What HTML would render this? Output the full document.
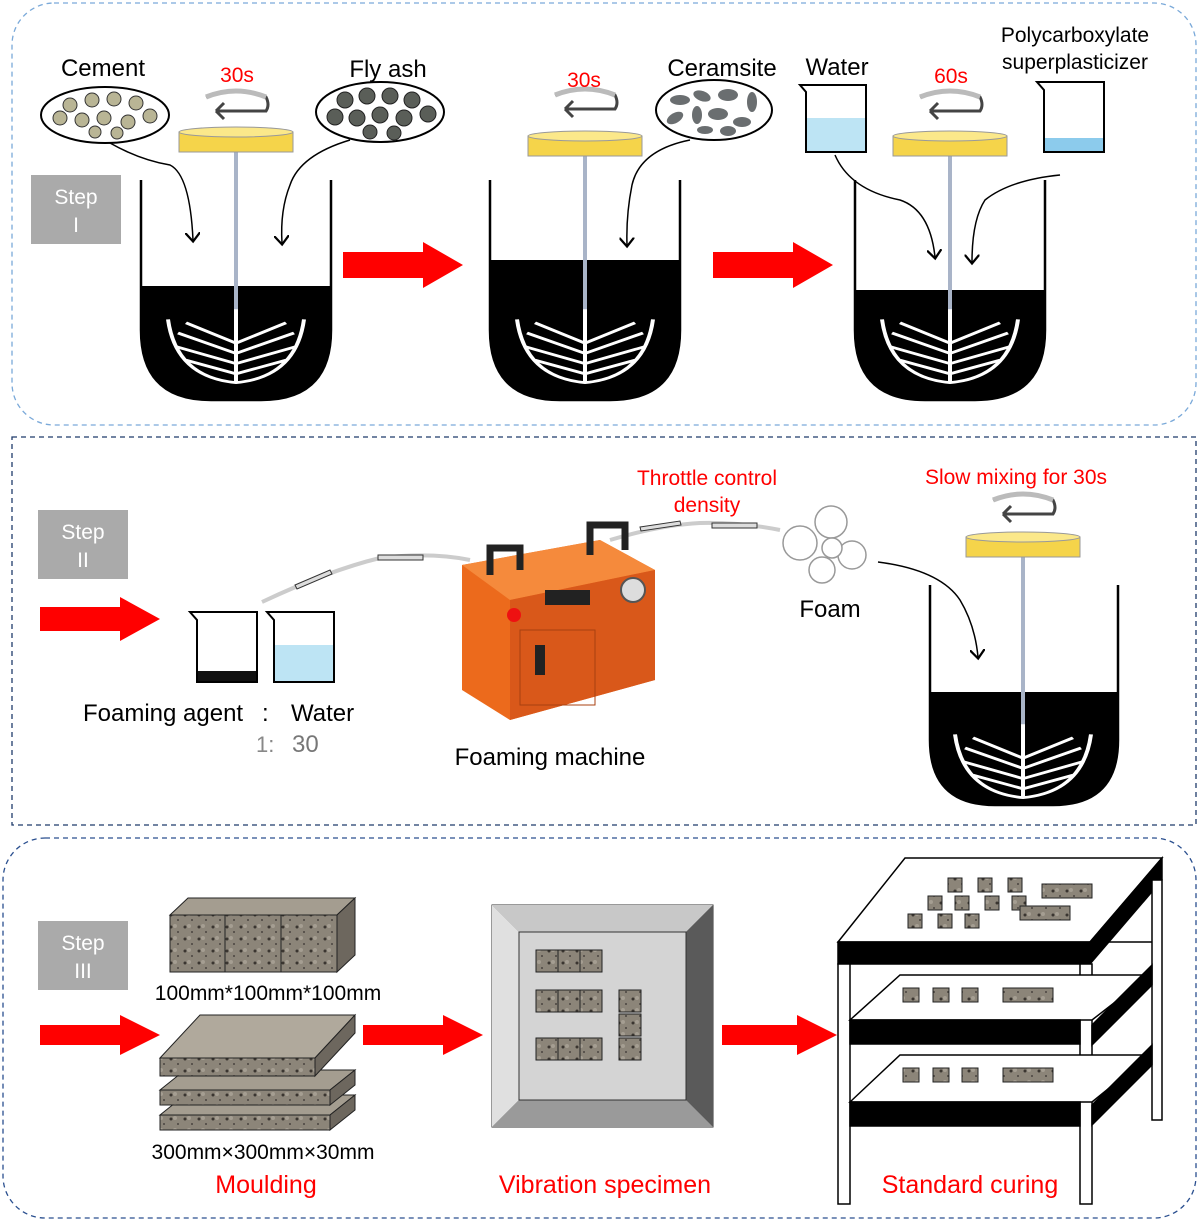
<!DOCTYPE html>
<html><head><meta charset="utf-8"><style>
html,body{margin:0;padding:0;background:#fff}
svg{display:block}
text{font-family:"Liberation Sans",sans-serif}
</style></head><body>
<svg width="1200" height="1221" viewBox="0 0 1200 1221" xmlns="http://www.w3.org/2000/svg">
<defs>
<g id="rot"><path d="M-30,-8 Q0,-20 30,-8 Q34,0 30,6 L-20,6 M-20,6 l8,-8 M-20,6 l8,8" fill="none" stroke="#444" stroke-width="3"/><path d="M-30,-8 Q0,-20 30,-8" fill="none" stroke="#bbb" stroke-width="5"/></g>
<g id="paddle0" stroke="#fff" stroke-width="4" fill="none">
<path d="M-68,-45 Q-60,40 0,48 Q60,40 68,-45"/>
<path d="M0,-60 L0,48 M0,-10 L-50,-40 M0,5 L-58,-25 M0,20 L-60,-5 M0,35 L-50,15 M0,-10 L50,-40 M0,5 L58,-25 M0,20 L60,-5 M0,35 L50,15"/>
</g>
<g id="paddle"><use href="#paddle0" transform="translate(0,15) scale(1,0.68)"/></g>
<g id="lid"><rect x="-57" y="-10" width="114" height="20" fill="#f5d44a" stroke="#999"/><ellipse cx="0" cy="-10" rx="57" ry="5" fill="#fbe88a" stroke="#999"/></g>
<marker id="ah" markerWidth="10" markerHeight="10" refX="5" refY="5" orient="auto"><path d="M0,0 L6,5 L0,10" fill="none" stroke="#000" stroke-width="1.5"/></marker>
<pattern id="tex" width="14" height="12" patternUnits="userSpaceOnUse"><rect width="14" height="12" fill="#8c8579"/><circle cx="3" cy="3" r="1.5" fill="#3a3530"/><circle cx="10" cy="8" r="1" fill="#4a4540"/><circle cx="7" cy="2" r="2" fill="#a59e92"/></pattern>
</defs>

<rect x="12" y="3" width="1184" height="422" rx="42" fill="none" stroke="#7aa9d9" stroke-width="1.3" stroke-dasharray="5,4"/>
<rect x="12" y="437" width="1184" height="388" fill="none" stroke="#1f3b6b" stroke-width="1.3" stroke-dasharray="5,4"/>
<rect x="3" y="838" width="1193" height="380" rx="42" fill="none" stroke="#2a4f8f" stroke-width="1.3" stroke-dasharray="5,4"/>

<rect x="31" y="175" width="90" height="69" fill="#aaa"/><text x="76" y="204" font-size="21" fill="#fff" text-anchor="middle">Step</text><text x="76" y="232" font-size="21" fill="#fff" text-anchor="middle" font-family="Liberation Serif">I</text>
<rect x="38" y="510" width="90" height="69" fill="#aaa"/><text x="83" y="539" font-size="21" fill="#fff" text-anchor="middle">Step</text><text x="83" y="567" font-size="21" fill="#fff" text-anchor="middle" font-family="Liberation Serif">II</text>
<rect x="38" y="921" width="90" height="69" fill="#aaa"/><text x="83" y="950" font-size="21" fill="#fff" text-anchor="middle">Step</text><text x="83" y="978" font-size="21" fill="#fff" text-anchor="middle" font-family="Liberation Serif">III</text>

<g fill="#f00">
<path d="M343,252 h80 v-10 l40,23 l-40,23 v-10 h-80z"/>
<path d="M713,252 h80 v-10 l40,23 l-40,23 v-10 h-80z"/>
<path d="M40,607 h80 v-10 l40,22 l-40,22 v-10 h-80z"/>
<path d="M40,1025 h80 v-10 l40,20 l-40,20 v-10 h-80z"/>
<path d="M363,1025 h80 v-10 l40,20 l-40,20 v-10 h-80z"/>
<path d="M722,1025 h75 v-10 l40,20 l-40,20 v-10 h-75z"/>
</g>

<g>
<path d="M141,180 V330 Q141,400 211,400 H261 Q331,400 331,330 V180" fill="none" stroke="#000" stroke-width="2.5"/>
<path d="M141,286 H331 V330 Q331,400 261,400 H211 Q141,400 141,330Z" fill="#000"/>
<line x1="236" y1="150" x2="236" y2="330" stroke="#a9b4c8" stroke-width="4"/>
<use href="#paddle" x="236" y="335"/><use href="#lid" x="236" y="142"/><use href="#rot" x="236" y="105"/>
</g>
<g>
<path d="M490,180 V330 Q490,400 560,400 H610 Q680,400 680,330 V180" fill="none" stroke="#000" stroke-width="2.5"/>
<path d="M490,260 H680 V330 Q680,400 610,400 H560 Q490,400 490,330Z" fill="#000"/>
<line x1="585" y1="155" x2="585" y2="330" stroke="#a9b4c8" stroke-width="4"/>
<use href="#paddle" x="585" y="335"/><use href="#lid" x="585" y="146"/><use href="#rot" x="585" y="103"/>
</g>
<g>
<path d="M855,180 V330 Q855,400 925,400 H975 Q1045,400 1045,330 V180" fill="none" stroke="#000" stroke-width="2.5"/>
<path d="M855,290 H1045 V330 Q1045,400 975,400 H925 Q855,400 855,330Z" fill="#000"/>
<line x1="950" y1="155" x2="950" y2="330" stroke="#a9b4c8" stroke-width="4"/>
<use href="#paddle" x="950" y="335"/><use href="#lid" x="950" y="146"/><use href="#rot" x="950" y="105"/>
</g>
<g>
<path d="M930,585 V740 Q930,805 995,805 H1053 Q1118,805 1118,740 V585" fill="none" stroke="#000" stroke-width="2.5"/>
<path d="M930,692 H1118 V740 Q1118,805 1053,805 H995 Q930,805 930,740Z" fill="#000"/>
<line x1="1023" y1="555" x2="1023" y2="745" stroke="#a9b4c8" stroke-width="4"/>
<use href="#paddle" x="1023" y="750"/><use href="#lid" x="1023" y="547"/><use href="#rot" x="1023" y="508"/>
</g>

<ellipse cx="105" cy="115" rx="64" ry="28" fill="#fff" stroke="#000" stroke-width="2"/>
<g fill="#b9b595" stroke="#333"><circle cx="70" cy="105" r="7"/><circle cx="92" cy="100" r="7"/><circle cx="114" cy="99" r="7"/><circle cx="136" cy="103" r="7"/><circle cx="60" cy="118" r="7"/><circle cx="82" cy="120" r="7"/><circle cx="104" cy="118" r="7"/><circle cx="128" cy="122" r="7"/><circle cx="150" cy="116" r="7"/><circle cx="95" cy="132" r="6"/><circle cx="117" cy="133" r="6"/></g>
<ellipse cx="380" cy="112" rx="64" ry="30" fill="#fff" stroke="#000" stroke-width="2"/>
<g fill="#5a5e58" stroke="#222"><circle cx="345" cy="100" r="8"/><circle cx="367" cy="96" r="8"/><circle cx="390" cy="96" r="8"/><circle cx="412" cy="100" r="8"/><circle cx="335" cy="117" r="8"/><circle cx="357" cy="118" r="8"/><circle cx="380" cy="115" r="8"/><circle cx="404" cy="118" r="8"/><circle cx="428" cy="114" r="8"/><circle cx="370" cy="132" r="7"/><circle cx="394" cy="133" r="7"/></g>
<ellipse cx="714" cy="110" rx="58" ry="30" fill="#fff" stroke="#000" stroke-width="2"/>
<g fill="#6a6e70"><ellipse cx="680" cy="100" rx="10" ry="5"/><ellipse cx="702" cy="96" rx="9" ry="5" transform="rotate(20 702 96)"/><ellipse cx="728" cy="95" rx="10" ry="6"/><ellipse cx="752" cy="102" rx="5" ry="10"/><ellipse cx="675" cy="118" rx="9" ry="5" transform="rotate(-30 675 118)"/><ellipse cx="697" cy="115" rx="5" ry="9"/><ellipse cx="718" cy="114" rx="10" ry="6"/><ellipse cx="742" cy="122" rx="9" ry="5"/><ellipse cx="705" cy="130" rx="8" ry="4"/><ellipse cx="728" cy="131" rx="8" ry="5"/></g>
<path d="M800,85 H866 V152 H806 V92 Z" fill="#fff" stroke="#000" stroke-width="2"/><rect x="807" y="118" width="58" height="33" fill="#bde4f4"/>
<path d="M1037,82 H1104 V152 H1044 V90 Z" fill="#fff" stroke="#000" stroke-width="2"/><rect x="1045" y="138" width="58" height="13" fill="#8ccbec"/>

<g fill="none" stroke="#000" stroke-width="1.5" marker-end="url(#ah)">
<path d="M110,143 Q140,160 170,165 Q190,175 193,240"/>
<path d="M350,140 Q300,155 290,185 Q280,210 282,243"/>
<path d="M690,140 Q640,150 632,185 Q626,215 627,245"/>
<path d="M835,155 Q850,190 900,200 Q930,210 935,257"/>
<path d="M1060,175 Q1010,180 985,200 Q972,220 972,262"/>
<path d="M878,562 Q940,570 960,600 Q975,625 978,657"/>
</g>

<text x="103" y="76" font-size="24" text-anchor="middle">Cement</text>
<text x="388" y="77" font-size="24" text-anchor="middle">Fly ash</text>
<text x="722" y="76" font-size="24" text-anchor="middle">Ceramsite</text>
<text x="837" y="75" font-size="24" text-anchor="middle">Water</text>
<text x="1075" y="42" font-size="21" text-anchor="middle">Polycarboxylate</text>
<text x="1075" y="69" font-size="21" text-anchor="middle">superplasticizer</text>
<text x="237" y="82" font-size="21" fill="#f00" text-anchor="middle">30s</text>
<text x="584" y="87" font-size="21" fill="#f00" text-anchor="middle">30s</text>
<text x="951" y="83" font-size="21" fill="#f00" text-anchor="middle">60s</text>

<path d="M190,612 H257 V682 H197 V620 Z" fill="#fff" stroke="#000" stroke-width="2"/><rect x="198" y="671" width="58" height="10" fill="#111"/>
<path d="M267,612 H334 V682 H274 V620 Z" fill="#fff" stroke="#000" stroke-width="2"/><rect x="275" y="645" width="58" height="36" fill="#bde4f4"/>
<path d="M262,602 Q330,570 380,558 Q430,552 470,560" fill="none" stroke="#ccc" stroke-width="4"/>
<path d="M610,540 Q660,525 700,523 Q740,522 780,530" fill="none" stroke="#ccc" stroke-width="4"/>
<g fill="#ddd" stroke="#333" stroke-width="1"><path d="M295,585 l35,-15 l2,4 l-35,15z"/><path d="M378,555 h45 v5 h-45z"/><path d="M640,527 l40,-6 l1,4 l-40,6z"/><path d="M712,523 h45 v5 h-45z"/></g>
<polygon points="462,565 600,540 655,570 655,680 510,720 462,690" fill="#ec6a1c"/>
<polygon points="462,565 600,540 655,570 510,600" fill="#f58a3c"/>
<polygon points="510,600 655,570 655,680 510,720" fill="#d9581a"/>
<path d="M490,575 V548 H520 V570 M590,555 V525 H625 V550" fill="none" stroke="#222" stroke-width="7"/>
<rect x="545" y="590" width="45" height="15" fill="#222"/>
<circle cx="633" cy="590" r="12" fill="#ddd" stroke="#555" stroke-width="2"/>
<circle cx="514" cy="615" r="7" fill="#e11"/>
<rect x="535" y="645" width="10" height="30" fill="#222"/>
<rect x="520" y="630" width="75" height="75" fill="none" stroke="#a84010"/>
<text x="550" y="765" font-size="24" text-anchor="middle">Foaming machine</text>
<g fill="#fff" stroke="#999" stroke-width="1.5"><circle cx="831" cy="522" r="16"/><circle cx="800" cy="543" r="17"/><circle cx="852" cy="555" r="14"/><circle cx="832" cy="548" r="10"/><circle cx="822" cy="570" r="13"/></g>
<text x="830" y="617" font-size="24" text-anchor="middle">Foam</text>
<text x="707" y="485" font-size="21" fill="#f00" text-anchor="middle">Throttle control</text>
<text x="707" y="512" font-size="21" fill="#f00" text-anchor="middle">density</text>
<text x="1016" y="484" font-size="21" fill="#f00" text-anchor="middle">Slow mixing for 30s</text>
<text x="83" y="721" font-size="24">Foaming agent</text>
<text x="262" y="721" font-size="24">:</text>
<text x="291" y="721" font-size="24">Water</text>
<text x="256" y="752" font-size="22" fill="#888">1:</text>
<text x="292" y="752" font-size="24" fill="#777">30</text>

<g stroke="#222" stroke-width="1">
<polygon points="170,915 188,898 355,898 337,915" fill="#a49d90"/>
<rect x="170" y="915" width="167" height="57" fill="url(#tex)"/>
<polygon points="337,915 355,898 355,955 337,972" fill="#6d675e"/>
<line x1="225" y1="915" x2="225" y2="972"/><line x1="281" y1="915" x2="281" y2="972"/>
</g>
<text x="268" y="1000" font-size="21" text-anchor="middle">100mm*100mm*100mm</text>
<g stroke="#222" stroke-width="1">
<polygon points="160,1115 185,1095 355,1095 330,1115" fill="#a49d90"/><rect x="160" y="1115" width="170" height="15" fill="url(#tex)"/><polygon points="330,1115 355,1095 355,1110 330,1130" fill="#6d675e"/>
<polygon points="160,1090 185,1070 355,1070 330,1090" fill="#a49d90"/><rect x="160" y="1090" width="170" height="15" fill="url(#tex)"/><polygon points="330,1090 355,1070 355,1085 330,1105" fill="#6d675e"/>
<polygon points="160,1058 200,1015 355,1015 315,1058" fill="#b0a99c"/><rect x="160" y="1058" width="155" height="18" fill="url(#tex)"/><polygon points="315,1058 355,1015 355,1033 315,1076" fill="#6d675e"/>
</g>
<text x="263" y="1159" font-size="21" text-anchor="middle">300mm×300mm×30mm</text>
<text x="266" y="1193" font-size="25" fill="#f00" text-anchor="middle">Moulding</text>

<rect x="492" y="905" width="221" height="222" fill="#7a7a7a" stroke="#333"/>
<polygon points="492,905 713,905 686,932 519,932" fill="#c8c8c8"/>
<polygon points="492,905 519,932 519,1100 492,1127" fill="#e0e0e0"/>
<polygon points="713,905 686,932 686,1100 713,1127" fill="#5a5a5a"/>
<polygon points="492,1127 519,1100 686,1100 713,1127" fill="#9a9a9a"/>
<rect x="519" y="932" width="167" height="168" fill="#d4d4d4" stroke="#333"/>
<g stroke="#222" fill="url(#tex)">
<rect x="536" y="950" width="22" height="22"/><rect x="558" y="950" width="22" height="22"/><rect x="580" y="950" width="22" height="22"/>
<rect x="536" y="990" width="22" height="22"/><rect x="558" y="990" width="22" height="22"/><rect x="580" y="990" width="22" height="22"/>
<rect x="536" y="1038" width="22" height="22"/><rect x="558" y="1038" width="22" height="22"/><rect x="580" y="1038" width="22" height="22"/>
<rect x="619" y="990" width="22" height="22"/><rect x="619" y="1014" width="22" height="22"/><rect x="619" y="1038" width="22" height="22"/>
</g>
<text x="605" y="1193" font-size="25" fill="#f00" text-anchor="middle">Vibration specimen</text>

<g stroke="#000" stroke-width="1.5" fill="#fff">
<polygon points="838,942 905,858 1162,858 1090,942"/>
<rect x="838" y="942" width="252" height="22" fill="#000"/>
<polygon points="1090,942 1162,858 1162,880 1090,964" fill="#000"/>
<rect x="838" y="964" width="12" height="240"/><rect x="1080" y="964" width="12" height="240"/>
<rect x="1152" y="880" width="10" height="240"/>
<polygon points="850,1020 900,975 1150,975 1092,1020" fill="#fff"/>
<rect x="850" y="1020" width="230" height="24" fill="#000"/>
<polygon points="1092,1025 1152,965 1152,985 1092,1045" fill="#000"/>
<polygon points="850,1102 900,1055 1150,1055 1092,1102" fill="#fff"/>
<rect x="850" y="1102" width="230" height="24" fill="#000"/>
<polygon points="1092,1105 1152,1045 1152,1065 1092,1125" fill="#000"/>
<line x1="1092" y1="942" x2="1152" y2="942"/>
</g>
<g stroke="#222" fill="url(#tex)">
<rect x="948" y="878" width="14" height="14"/><rect x="978" y="878" width="14" height="14"/><rect x="1008" y="878" width="14" height="14"/>
<rect x="928" y="896" width="14" height="14"/><rect x="955" y="896" width="14" height="14"/><rect x="985" y="896" width="14" height="14"/><rect x="1012" y="896" width="14" height="14"/>
<rect x="908" y="914" width="14" height="14"/><rect x="938" y="914" width="14" height="14"/><rect x="965" y="914" width="14" height="14"/>
<rect x="1042" y="884" width="50" height="14"/><rect x="1020" y="906" width="50" height="14"/>
<rect x="903" y="988" width="16" height="14"/><rect x="933" y="988" width="16" height="14"/><rect x="962" y="988" width="16" height="14"/><rect x="1003" y="988" width="50" height="14"/>
<rect x="903" y="1068" width="16" height="14"/><rect x="933" y="1068" width="16" height="14"/><rect x="962" y="1068" width="16" height="14"/><rect x="1003" y="1068" width="50" height="14"/>
</g>
<text x="970" y="1193" font-size="25" fill="#f00" text-anchor="middle">Standard curing</text>
</svg>
</body></html>
